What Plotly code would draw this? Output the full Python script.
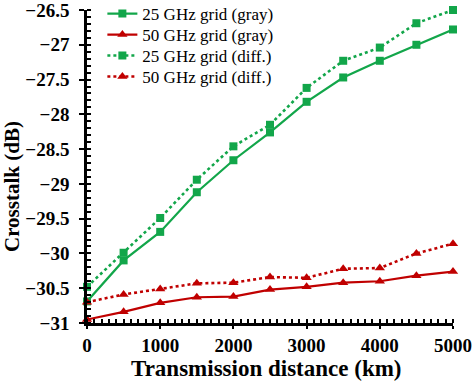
import plotly.graph_objects as go

distance = [0, 500, 1000, 1500, 2000, 2500, 3000, 3500, 4000, 4500, 5000]
xt_25_gray = [-30.69, -30.10, -29.69, -29.12, -28.66, -28.26, -27.82, -27.47, -27.23, -27.00, -26.78]
xt_50_gray = [-30.95, -30.84, -30.71, -30.63, -30.62, -30.52, -30.48, -30.42, -30.40, -30.32, -30.26]
xt_25_diff = [-30.48, -29.99, -29.49, -28.94, -28.46, -28.15, -27.62, -27.23, -27.04, -26.69, -26.50]
xt_50_diff = [-30.70, -30.59, -30.51, -30.43, -30.42, -30.34, -30.35, -30.22, -30.21, -30.00, -29.86]

x_ticks = [0, 1000, 2000, 3000, 4000, 5000]
names = ["25 GHz grid (gray)", "50 GHz grid (gray)", "25 GHz grid (diff.)", "50 GHz grid (diff.)"]
GREEN = "#12A64A"
RED = "#C00000"
SERIF = "Liberation Serif, Times New Roman, Times, serif"

series = [
    (xt_25_gray, names[0], GREEN, "solid", "square", 8, "legend"),
    (xt_50_gray, names[1], RED, "solid", "triangle-up", 9, "legend2"),
    (xt_25_diff, names[2], GREEN, "dot", "square", 8, "legend3"),
    (xt_50_diff, names[3], RED, "dot", "triangle-up", 9, "legend4"),
]

fig = go.Figure()
for ys, nm, col, dash, sym, sz, lg in series:
    fig.add_trace(go.Scatter(x=distance, y=ys, name=nm, mode="lines+markers", legend=lg,
                             line=dict(color=col, width=2.2 if dash == "solid" else 2.6, dash=dash),
                             marker=dict(symbol=sym, size=sz, color=col), cliponaxis=False))

W, H = 474, 391
ML, MR, MT, MB = 87, 21, 10, 68
PLOT_W = W - ML - MR
PLOT_H = H - MT - MB

def leg(row_y):
    return dict(x=0.042, y=1 - (row_y - MT) / PLOT_H, xanchor="left", yanchor="middle",
                bgcolor="rgba(0,0,0,0)", borderwidth=0,
                font=dict(family=SERIF, size=17, color="black"), itemwidth=30)

tickfont = dict(family=SERIF, size=19, color="black", weight="bold")
fig.update_layout(
    width=W, height=H,
    margin=dict(l=ML, r=MR, t=MT, b=MB, autoexpand=False),
    plot_bgcolor="white", paper_bgcolor="white",
    showlegend=True,
    legend=leg(14), legend2=leg(35), legend3=leg(56), legend4=leg(77),
    xaxis=dict(range=[0, 5000], tickvals=x_ticks, automargin=False, ticklabeloverflow="allow",
               showgrid=False, zeroline=False, showline=True, linecolor="black", linewidth=2.5,
               ticks="outside", ticklen=3, tickwidth=2, tickcolor="black", ticklabelstandoff=0,
               minor=dict(dtick=100, ticks="inside", ticklen=4, tickwidth=1.5, tickcolor="black", showgrid=False),
               tickfont=tickfont),
    yaxis=dict(range=[-31, -26.5], dtick=0.5, tick0=-31, automargin=False, ticklabeloverflow="allow",
               showgrid=False, zeroline=False, showline=True, linecolor="black", linewidth=2.5,
               ticks="outside", ticklen=5, tickwidth=2, tickcolor="black", ticklabelstandoff=6,
               minor=dict(dtick=0.1, ticks="inside", ticklen=4, tickwidth=1.5, tickcolor="black", showgrid=False),
               tickfont=tickfont),
    annotations=[
        dict(text="<b>Crosstalk (dB)</b>", xref="paper", yref="paper", x=0, y=(MT + PLOT_H - 187) / PLOT_H,
             xanchor="center", yanchor="middle", xshift=12 - ML, textangle=-90, showarrow=False,
             font=dict(family=SERIF, size=21, color="black")),
        dict(text="<b>Transmission distance (km)</b>", xref="paper", yref="paper", x=(266.5 - ML) / PLOT_W, y=0,
             xanchor="center", yanchor="middle", yshift=-(368 - (MT + PLOT_H)), showarrow=False,
             font=dict(family=SERIF, size=23, color="black")),
    ],
)
fig.write_html("out.html", config={"displayModeBar": False},
               post_script="document.body.style.margin='0';document.body.style.overflow='hidden';")
